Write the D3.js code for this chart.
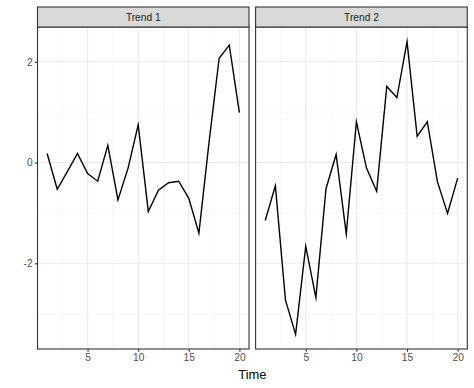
<!DOCTYPE html>
<html>
<head>
<meta charset="utf-8">
<script src="https://cdn.jsdelivr.net/npm/d3@7"></script>
<style>
  body { margin: 0; background: #fff; }
  svg { display: block; font-family: "Liberation Sans", Arial, sans-serif; }
</style>
</head>
<body>
<svg id="chart" width="474" height="388"></svg>
<script>
const panels = ["Trend 1", "Trend 2"];
const time = [1,2,3,4,5,6,7,8,9,10,11,12,13,14,15,16,17,18,19,20];
const trend1 = [0.18,-0.53,-0.18,0.18,-0.22,-0.37,0.34,-0.74,-0.11,0.75,-0.97,-0.55,-0.40,-0.37,-0.71,-1.40,0.40,2.07,2.33,0.99];
const trend2 = [-1.15,-0.46,-2.73,-3.41,-1.66,-2.68,-0.52,0.16,-1.42,0.81,-0.11,-0.57,1.51,1.29,2.40,0.52,0.81,-0.38,-1.01,-0.31];
const xTicks = [5,10,15,20];
const xMinor = [2.5,7.5,12.5,17.5];
const yTicks = [-2,0,2];
const yMinor = [-3,-1,1];
const xTitle = "Time";

const seriesList = [trend1, trend2];
const svg = d3.select("#chart");

const panelTop = 27, panelBottom = 349, stripTop = 7;
const panelX = [[37.5, 249], [255.6, 467.3]];
const tickFont = 10.2;

const allY = trend1.concat(trend2);
const yMin = d3.min(allY), yMax = d3.max(allY);
const yPad = (yMax - yMin) * 0.05;
const y = d3.scaleLinear().domain([yMin - yPad, yMax + yPad]).range([panelBottom, panelTop]);
const xPad = (d3.max(time) - d3.min(time)) * 0.05;

panels.forEach((name, i) => {
  const [x0, x1] = panelX[i];
  const x = d3.scaleLinear().domain([d3.min(time) - xPad, d3.max(time) + xPad]).range([x0, x1]);
  const g = svg.append("g");

  g.append("rect").attr("x", x0).attr("y", panelTop).attr("width", x1 - x0).attr("height", panelBottom - panelTop).attr("fill", "#fff");

  // minor grid
  g.selectAll(".ymin").data(yMinor).join("line")
    .attr("x1", x0).attr("x2", x1).attr("y1", d => y(d)).attr("y2", d => y(d))
    .attr("stroke", "#F2F2F2").attr("stroke-width", 0.6);
  g.selectAll(".xmin").data(xMinor).join("line")
    .attr("y1", panelTop).attr("y2", panelBottom).attr("x1", d => x(d)).attr("x2", d => x(d))
    .attr("stroke", "#F2F2F2").attr("stroke-width", 0.6);
  // major grid
  g.selectAll(".ymaj").data(yTicks).join("line")
    .attr("x1", x0).attr("x2", x1).attr("y1", d => y(d)).attr("y2", d => y(d))
    .attr("stroke", "#EBEBEB").attr("stroke-width", 1.1);
  g.selectAll(".xmaj").data(xTicks).join("line")
    .attr("y1", panelTop).attr("y2", panelBottom).attr("x1", d => x(d)).attr("x2", d => x(d))
    .attr("stroke", "#EBEBEB").attr("stroke-width", 1.1);

  const line = d3.line().x((d, j) => x(time[j])).y(d => y(d));
  g.append("path").datum(seriesList[i]).attr("d", line)
    .attr("fill", "none").attr("stroke", "#000").attr("stroke-width", 1.4)
    .attr("stroke-linejoin", "miter").attr("stroke-miterlimit", 10);

  g.append("rect").attr("x", x0).attr("y", panelTop).attr("width", x1 - x0).attr("height", panelBottom - panelTop)
    .attr("fill", "none").attr("stroke", "#333333").attr("stroke-width", 1.1);

  // strip
  g.append("rect").attr("x", x0).attr("y", stripTop).attr("width", x1 - x0).attr("height", panelTop - stripTop)
    .attr("fill", "#D9D9D9").attr("stroke", "#333333").attr("stroke-width", 1.1);
  g.append("text").attr("x", (x0 + x1) / 2).attr("y", (stripTop + panelTop) / 2)
    .attr("text-anchor", "middle").attr("dominant-baseline", "central")
    .attr("font-size", tickFont).attr("fill", "#1A1A1A").text(name);

  // x axis
  const xAxis = d3.axisBottom(x).tickValues(xTicks).tickSize(2.7).tickPadding(2.2);
  const ax = g.append("g").attr("transform", `translate(0,${panelBottom})`).call(xAxis);
  ax.attr("font-size", tickFont).attr("font-family", "Liberation Sans, Arial, sans-serif");
  ax.select(".domain").remove();
  ax.selectAll(".tick line").attr("stroke", "#333333").attr("stroke-width", 1.1);
  ax.selectAll(".tick text").attr("fill", "#4D4D4D");

  if (i === 0) {
    const yAxis = d3.axisLeft(y).tickValues(yTicks).tickSize(2.7).tickPadding(2.2).tickFormat(d3.format("d"));
    const ay = g.append("g").attr("transform", `translate(${x0},0)`).call(yAxis);
    ay.attr("font-size", tickFont).attr("font-family", "Liberation Sans, Arial, sans-serif");
    ay.select(".domain").remove();
    ay.selectAll(".tick line").attr("stroke", "#333333").attr("stroke-width", 1.1);
    ay.selectAll(".tick text").attr("fill", "#4D4D4D").text(d => d < 0 ? "-" + Math.abs(d) : d);
  }
});

svg.append("text").attr("x", (panelX[0][0] + panelX[1][1]) / 2).attr("y", 379)
  .attr("text-anchor", "middle").attr("font-size", 12.9).attr("fill", "#000").text(xTitle);
</script>
</body>
</html>
